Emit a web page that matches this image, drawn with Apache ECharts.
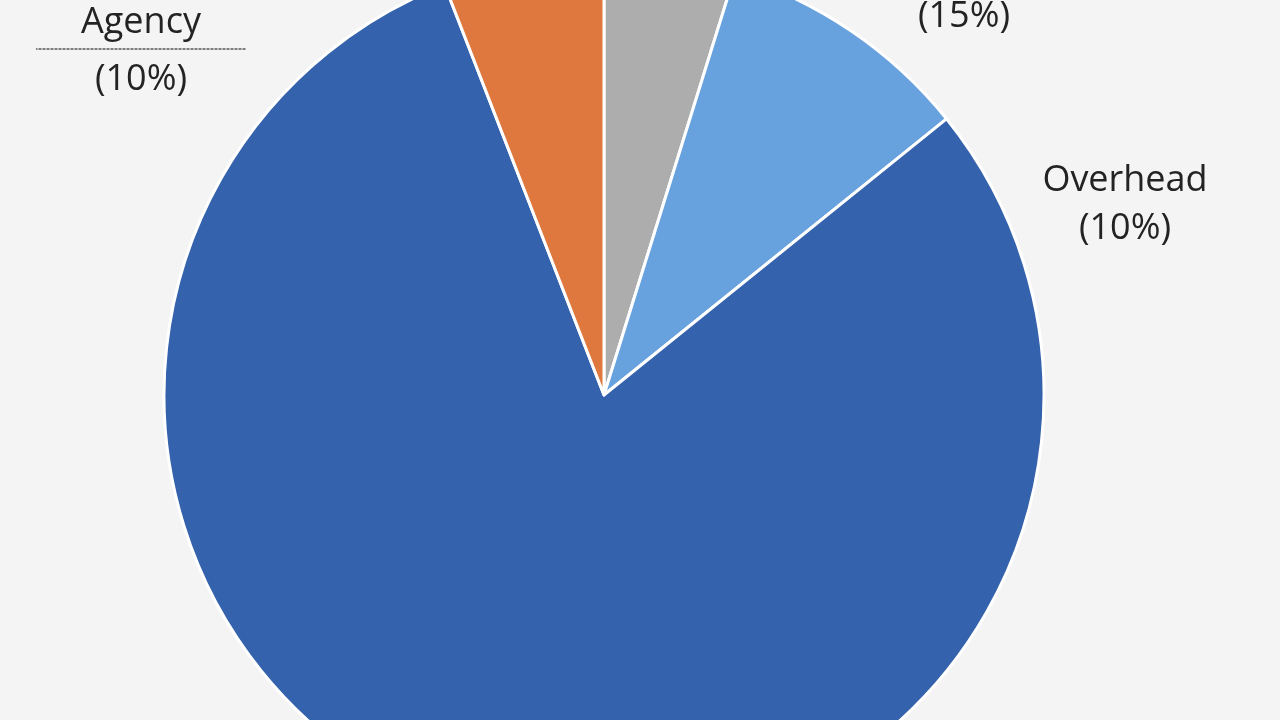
<!DOCTYPE html>
<html>
<head>
<meta charset="utf-8">
<script src="https://cdn.jsdelivr.net/npm/echarts@6/dist/echarts.min.js"></script>
<style>
html,body{margin:0;padding:0;background:#f4f4f4;}
#chart{width:1280px;height:720px;}
</style>
</head>
<body>
<div id="chart"></div>
<script>
// Slices in clockwise order starting at 12 o'clock
const categories = ['Production', 'Overhead', 'Media', 'Agency'];
const sliceValues = [4.8, 9.4, 79.9, 5.9];          // angular share (%)
const labelPercents = ['(15%)', '(10%)', '(65%)', '(10%)']; // percentages printed in the labels
const sliceColors = ['#adadad', '#67a1de', '#3462ac', '#de783e'];
const showLabel = [true, true, false, true];
const dividedLabel = [false, false, false, true];

// label anchor positions (layout only)
const labelPos = [
  {x: 964, y: -8, v: 'middle'},
  {x: 1125, y: 204, v: 'middle'},
  {x: 604, y: 900, v: 'middle'},
  {x: 141, y: -2, v: 'top'}
];

const chart = echarts.init(document.getElementById('chart'));

const data = categories.map((name, i) => ({
  name: name,
  value: sliceValues[i],
  itemStyle: {color: sliceColors[i]},
  label: {
    show: showLabel[i],
    formatter: dividedLabel[i]
      ? '{name|' + name + '}\n{hr|}\n{pct2|' + labelPercents[i] + '}'
      : '{name|' + name + '}\n{pct|' + labelPercents[i] + '}'
  }
}));

const txt = {fontFamily: 'Open Sans', fontSize: 36, color: '#232323', align: 'center'};

chart.setOption({
  backgroundColor: '#f4f4f4',
  animation: false,
  series: [{
    type: 'pie',
    center: [604, 395],
    radius: 440,
    startAngle: 90,
    clockwise: true,
    avoidLabelOverlap: false,
    itemStyle: {borderColor: '#ffffff', borderWidth: 3},
    labelLine: {show: false},
    label: {
      position: 'outside',
      color: '#232323',
      fontFamily: 'Open Sans',
      fontSize: 36,
      align: 'center',
      rich: {
        name: Object.assign({lineHeight: 50}, txt),
        pct: Object.assign({lineHeight: 46}, txt),
        pct2: Object.assign({lineHeight: 60}, txt),
        hr: {width: 210, height: 0, lineHeight: 2, borderColor: '#555555', borderWidth: 1.5, borderType: [1.5, 2.5], align: 'center'}
      }
    },
    labelLayout: function (params) {
      const p = labelPos[params.dataIndex];
      return {x: p.x, y: p.y, align: 'center', verticalAlign: p.v};
    },
    data: data
  }]
});
</script>
</body>
</html>
